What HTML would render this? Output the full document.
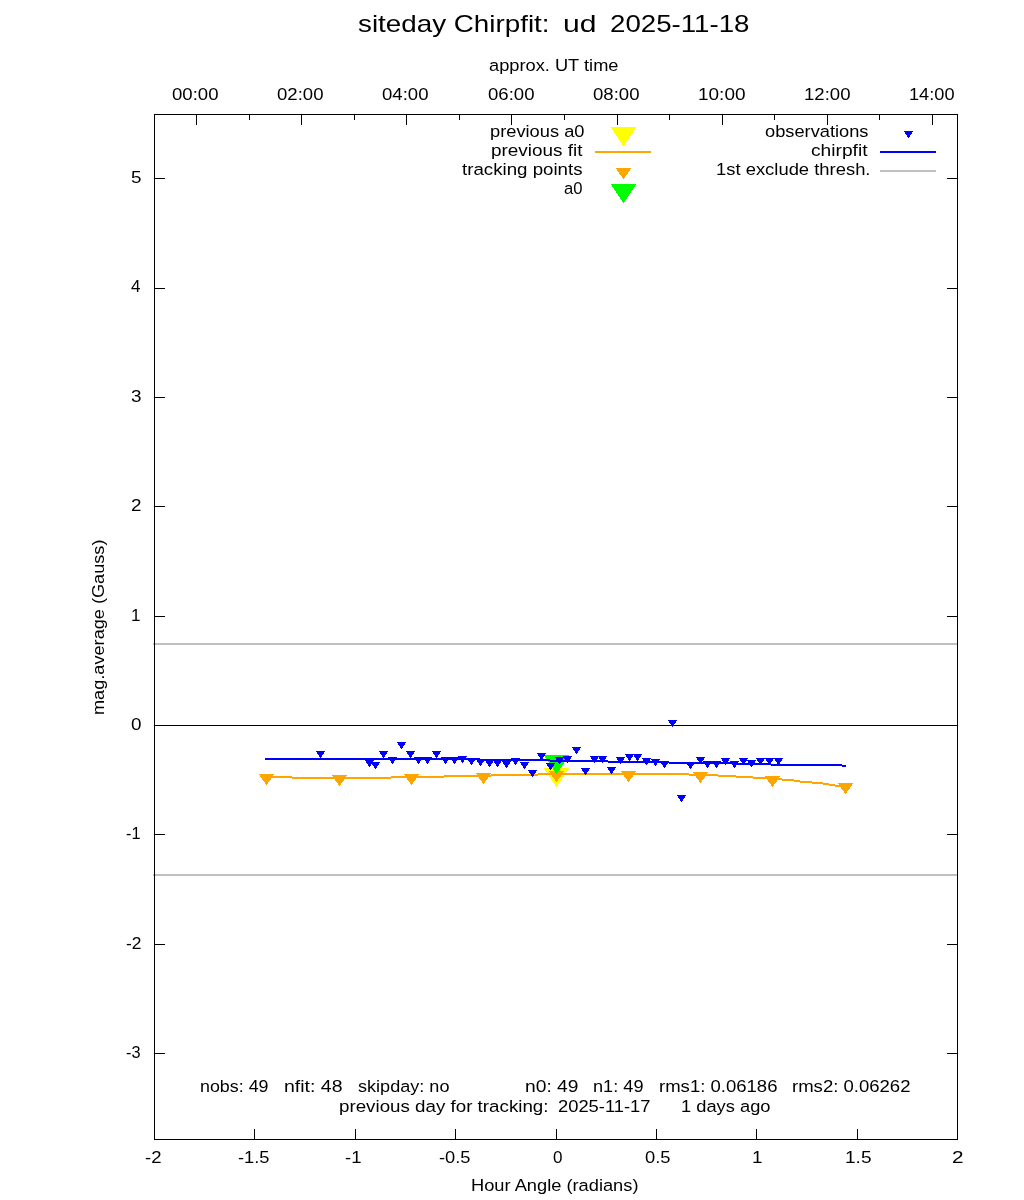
<!DOCTYPE html>
<html><head><meta charset="utf-8"><style>
html,body{margin:0;padding:0;background:#fff;width:1024px;height:1200px;overflow:hidden}
svg{display:block;will-change:transform}
</style></head><body>
<svg width="1024" height="1200" viewBox="0 0 1024 1200">
<rect x="0" y="0" width="1024" height="1200" fill="#ffffff"/><g shape-rendering="crispEdges"><rect x="153" y="643" width="804" height="2" fill="#c0c0c0"/><rect x="153" y="874" width="804" height="2" fill="#c0c0c0"/><rect x="154" y="725" width="804" height="1" fill="#000"/></g><g shape-rendering="crispEdges" fill="#000"><rect x="154" y="114" width="804" height="1"/><rect x="154" y="1139" width="804" height="1"/><rect x="154" y="114" width="1" height="1026"/><rect x="957" y="114" width="1" height="1026"/><rect x="155" y="1053" width="10" height="1"/><rect x="947" y="1053" width="10" height="1"/><rect x="155" y="944" width="10" height="1"/><rect x="947" y="944" width="10" height="1"/><rect x="155" y="834" width="10" height="1"/><rect x="947" y="834" width="10" height="1"/><rect x="155" y="725" width="10" height="1"/><rect x="947" y="725" width="10" height="1"/><rect x="155" y="616" width="10" height="1"/><rect x="947" y="616" width="10" height="1"/><rect x="155" y="506" width="10" height="1"/><rect x="947" y="506" width="10" height="1"/><rect x="155" y="397" width="10" height="1"/><rect x="947" y="397" width="10" height="1"/><rect x="155" y="288" width="10" height="1"/><rect x="947" y="288" width="10" height="1"/><rect x="155" y="178" width="10" height="1"/><rect x="947" y="178" width="10" height="1"/><rect x="154" y="1129" width="1" height="10"/><rect x="254" y="1129" width="1" height="10"/><rect x="355" y="1129" width="1" height="10"/><rect x="455" y="1129" width="1" height="10"/><rect x="556" y="1129" width="1" height="10"/><rect x="656" y="1129" width="1" height="10"/><rect x="756" y="1129" width="1" height="10"/><rect x="857" y="1129" width="1" height="10"/><rect x="957" y="1129" width="1" height="10"/><rect x="196" y="115" width="1" height="10"/><rect x="249" y="115" width="1" height="5"/><rect x="301" y="115" width="1" height="10"/><rect x="354" y="115" width="1" height="5"/><rect x="406" y="115" width="1" height="10"/><rect x="459" y="115" width="1" height="5"/><rect x="511" y="115" width="1" height="10"/><rect x="564" y="115" width="1" height="5"/><rect x="617" y="115" width="1" height="10"/><rect x="669" y="115" width="1" height="5"/><rect x="722" y="115" width="1" height="10"/><rect x="774" y="115" width="1" height="5"/><rect x="827" y="115" width="1" height="10"/><rect x="879" y="115" width="1" height="5"/><rect x="932" y="115" width="1" height="10"/></g><g shape-rendering="crispEdges"><path d="M543.50 768 L569.50 768 L556.50 787.20 Z" fill="#ffff00"/><rect x="265" y="776" width="27" height="2" fill="#ffa500"/><rect x="292" y="777" width="99" height="2" fill="#ffa500"/><rect x="391" y="776" width="53" height="2" fill="#ffa500"/><rect x="444" y="775" width="47" height="2" fill="#ffa500"/><rect x="491" y="774" width="47" height="2" fill="#ffa500"/><rect x="538" y="773" width="151" height="2" fill="#ffa500"/><rect x="689" y="774" width="29" height="2" fill="#ffa500"/><rect x="718" y="775" width="18" height="2" fill="#ffa500"/><rect x="736" y="776" width="17" height="2" fill="#ffa500"/><rect x="753" y="777" width="19" height="2" fill="#ffa500"/><rect x="772" y="778" width="10" height="2" fill="#ffa500"/><rect x="782" y="779" width="12" height="2" fill="#ffa500"/><rect x="794" y="780" width="6" height="2" fill="#ffa500"/><rect x="800" y="781" width="12" height="2" fill="#ffa500"/><rect x="812" y="782" width="11" height="2" fill="#ffa500"/><rect x="823" y="783" width="6" height="2" fill="#ffa500"/><rect x="829" y="784" width="6" height="2" fill="#ffa500"/><rect x="835" y="785" width="11" height="2" fill="#ffa500"/><path d="M258.50 774 L274.50 774 L266.50 785.20 Z" fill="#ffa500"/><path d="M331.50 775 L347.50 775 L339.50 786.20 Z" fill="#ffa500"/><path d="M403.50 774 L419.50 774 L411.50 785.20 Z" fill="#ffa500"/><path d="M475.50 773 L491.50 773 L483.50 784.20 Z" fill="#ffa500"/><path d="M548.50 771 L564.50 771 L556.50 782.20 Z" fill="#ffa500"/><path d="M620.50 771 L636.50 771 L628.50 782.20 Z" fill="#ffa500"/><path d="M692.50 772 L708.50 772 L700.50 783.20 Z" fill="#ffa500"/><path d="M764.50 776 L780.50 776 L772.50 787.20 Z" fill="#ffa500"/><path d="M837.50 783 L853.50 783 L845.50 794.20 Z" fill="#ffa500"/><path d="M543.50 755 L569.50 755 L556.50 774.20 Z" fill="#00ff00"/><path d="M315.50 751 L325.50 751 L320.50 758.20 Z" fill="#0000ff"/><path d="M364.50 760 L374.50 760 L369.50 767.20 Z" fill="#0000ff"/><path d="M370.50 762 L380.50 762 L375.50 769.20 Z" fill="#0000ff"/><path d="M378.50 751 L388.50 751 L383.50 758.20 Z" fill="#0000ff"/><path d="M396.50 742 L406.50 742 L401.50 749.20 Z" fill="#0000ff"/><path d="M387.50 757 L397.50 757 L392.50 764.20 Z" fill="#0000ff"/><path d="M405.50 751 L415.50 751 L410.50 758.20 Z" fill="#0000ff"/><path d="M413.50 757 L423.50 757 L418.50 764.20 Z" fill="#0000ff"/><path d="M422.50 757 L432.50 757 L427.50 764.20 Z" fill="#0000ff"/><path d="M431.50 751 L441.50 751 L436.50 758.20 Z" fill="#0000ff"/><path d="M440.50 757 L450.50 757 L445.50 764.20 Z" fill="#0000ff"/><path d="M449.50 757 L459.50 757 L454.50 764.20 Z" fill="#0000ff"/><path d="M457.50 756 L467.50 756 L462.50 763.20 Z" fill="#0000ff"/><path d="M466.50 758 L476.50 758 L471.50 765.20 Z" fill="#0000ff"/><path d="M475.50 759 L485.50 759 L480.50 766.20 Z" fill="#0000ff"/><path d="M484.50 760 L494.50 760 L489.50 767.20 Z" fill="#0000ff"/><path d="M492.50 760 L502.50 760 L497.50 767.20 Z" fill="#0000ff"/><path d="M501.50 761 L511.50 761 L506.50 768.20 Z" fill="#0000ff"/><path d="M510.50 758 L520.50 758 L515.50 765.20 Z" fill="#0000ff"/><path d="M519.50 762 L529.50 762 L524.50 769.20 Z" fill="#0000ff"/><path d="M527.50 770 L537.50 770 L532.50 777.20 Z" fill="#0000ff"/><path d="M536.50 753 L546.50 753 L541.50 760.20 Z" fill="#0000ff"/><path d="M545.50 763 L555.50 763 L550.50 770.20 Z" fill="#0000ff"/><path d="M554.50 757 L564.50 757 L559.50 764.20 Z" fill="#0000ff"/><path d="M562.50 756 L572.50 756 L567.50 763.20 Z" fill="#0000ff"/><path d="M571.50 747 L581.50 747 L576.50 754.20 Z" fill="#0000ff"/><path d="M580.50 768 L590.50 768 L585.50 775.20 Z" fill="#0000ff"/><path d="M589.50 756 L599.50 756 L594.50 763.20 Z" fill="#0000ff"/><path d="M597.50 756 L607.50 756 L602.50 763.20 Z" fill="#0000ff"/><path d="M606.50 767 L616.50 767 L611.50 774.20 Z" fill="#0000ff"/><path d="M615.50 757 L625.50 757 L620.50 764.20 Z" fill="#0000ff"/><path d="M624.50 754 L634.50 754 L629.50 761.20 Z" fill="#0000ff"/><path d="M632.50 754 L642.50 754 L637.50 761.20 Z" fill="#0000ff"/><path d="M641.50 758 L651.50 758 L646.50 765.20 Z" fill="#0000ff"/><path d="M650.50 759 L660.50 759 L655.50 766.20 Z" fill="#0000ff"/><path d="M659.50 761 L669.50 761 L664.50 768.20 Z" fill="#0000ff"/><path d="M667.50 720 L677.50 720 L672.50 727.20 Z" fill="#0000ff"/><path d="M676.50 795 L686.50 795 L681.50 802.20 Z" fill="#0000ff"/><path d="M685.50 762 L695.50 762 L690.50 769.20 Z" fill="#0000ff"/><path d="M695.50 757 L705.50 757 L700.50 764.20 Z" fill="#0000ff"/><path d="M702.50 761 L712.50 761 L707.50 768.20 Z" fill="#0000ff"/><path d="M711.50 761 L721.50 761 L716.50 768.20 Z" fill="#0000ff"/><path d="M720.50 758 L730.50 758 L725.50 765.20 Z" fill="#0000ff"/><path d="M729.50 761 L739.50 761 L734.50 768.20 Z" fill="#0000ff"/><path d="M738.50 758 L748.50 758 L743.50 765.20 Z" fill="#0000ff"/><path d="M746.50 760 L756.50 760 L751.50 767.20 Z" fill="#0000ff"/><path d="M755.50 758 L765.50 758 L760.50 765.20 Z" fill="#0000ff"/><path d="M764.50 758 L774.50 758 L769.50 765.20 Z" fill="#0000ff"/><path d="M773.50 758 L783.50 758 L778.50 765.20 Z" fill="#0000ff"/><rect x="265" y="758" width="215" height="2" fill="#0000ff"/><rect x="480" y="759" width="70" height="2" fill="#0000ff"/><rect x="550" y="760" width="58" height="2" fill="#0000ff"/><rect x="608" y="761" width="61" height="2" fill="#0000ff"/><rect x="669" y="762" width="66" height="2" fill="#0000ff"/><rect x="735" y="763" width="36" height="2" fill="#0000ff"/><rect x="771" y="764" width="71" height="2" fill="#0000ff"/><rect x="842" y="765" width="4" height="2" fill="#0000ff"/></g><g shape-rendering="crispEdges"><path d="M610.50 127 L636.50 127 L623.50 146.20 Z" fill="#ffff00"/><rect x="595" y="151" width="56" height="2" fill="#ffa500"/><path d="M615.50 168 L631.50 168 L623.50 179.20 Z" fill="#ffa500"/><path d="M610.50 184 L636.50 184 L623.50 203.20 Z" fill="#00ff00"/><path d="M903.50 131 L913.50 131 L908.50 138.20 Z" fill="#0000ff"/><rect x="880" y="151" width="56" height="2" fill="#0000ff"/><rect x="880" y="170" width="56" height="2" fill="#c0c0c0"/></g><g font-family='"Liberation Sans", sans-serif' fill="#000"><text x="358.00" y="31.50" font-size="23.8" textLength="191.50" lengthAdjust="spacingAndGlyphs">siteday Chirpfit:</text><text x="563.00" y="31.50" font-size="23.8" textLength="33.50" lengthAdjust="spacingAndGlyphs">ud</text><text x="610.00" y="31.50" font-size="23.8" textLength="139.50" lengthAdjust="spacingAndGlyphs">2025-11-18</text><text x="489.00" y="71.00" font-size="16.3" textLength="129.50" lengthAdjust="spacingAndGlyphs">approx. UT time</text><text x="172.00" y="100.00" font-size="16.3" textLength="46.50" lengthAdjust="spacingAndGlyphs">00:00</text><text x="277.00" y="100.00" font-size="16.3" textLength="46.50" lengthAdjust="spacingAndGlyphs">02:00</text><text x="382.00" y="100.00" font-size="16.3" textLength="46.50" lengthAdjust="spacingAndGlyphs">04:00</text><text x="488.00" y="100.00" font-size="16.3" textLength="46.50" lengthAdjust="spacingAndGlyphs">06:00</text><text x="593.00" y="100.00" font-size="16.3" textLength="46.50" lengthAdjust="spacingAndGlyphs">08:00</text><text x="698.00" y="100.00" font-size="16.3" textLength="47.50" lengthAdjust="spacingAndGlyphs">10:00</text><text x="804.00" y="100.00" font-size="16.3" textLength="46.50" lengthAdjust="spacingAndGlyphs">12:00</text><text x="909.00" y="100.00" font-size="16.3" textLength="45.50" lengthAdjust="spacingAndGlyphs">14:00</text><text x="131.00" y="183.00" font-size="16.3" textLength="10.50" lengthAdjust="spacingAndGlyphs">5</text><text x="131.00" y="292.00" font-size="16.3" textLength="9.50" lengthAdjust="spacingAndGlyphs">4</text><text x="131.00" y="402.00" font-size="16.3" textLength="10.50" lengthAdjust="spacingAndGlyphs">3</text><text x="131.00" y="511.00" font-size="16.3" textLength="10.50" lengthAdjust="spacingAndGlyphs">2</text><text x="131.00" y="621.00" font-size="16.3" textLength="9.50" lengthAdjust="spacingAndGlyphs">1</text><text x="131.00" y="730.00" font-size="16.3" textLength="10.50" lengthAdjust="spacingAndGlyphs">0</text><text x="126.00" y="839.00" font-size="16.3" textLength="14.50" lengthAdjust="spacingAndGlyphs">-1</text><text x="126.00" y="949.00" font-size="16.3" textLength="15.50" lengthAdjust="spacingAndGlyphs">-2</text><text x="126.00" y="1058.00" font-size="16.3" textLength="14.50" lengthAdjust="spacingAndGlyphs">-3</text><text x="145.00" y="1163.00" font-size="16.3" textLength="16.50" lengthAdjust="spacingAndGlyphs">-2</text><text x="238.00" y="1163.00" font-size="16.3" textLength="31.50" lengthAdjust="spacingAndGlyphs">-1.5</text><text x="345.00" y="1163.00" font-size="16.3" textLength="16.50" lengthAdjust="spacingAndGlyphs">-1</text><text x="439.00" y="1163.00" font-size="16.3" textLength="31.50" lengthAdjust="spacingAndGlyphs">-0.5</text><text x="553.00" y="1163.00" font-size="16.3" textLength="9.50" lengthAdjust="spacingAndGlyphs">0</text><text x="645.00" y="1163.00" font-size="16.3" textLength="25.50" lengthAdjust="spacingAndGlyphs">0.5</text><text x="752.00" y="1163.00" font-size="16.3" textLength="10.50" lengthAdjust="spacingAndGlyphs">1</text><text x="845.00" y="1163.00" font-size="16.3" textLength="26.50" lengthAdjust="spacingAndGlyphs">1.5</text><text x="952.00" y="1163.00" font-size="16.3" textLength="11.50" lengthAdjust="spacingAndGlyphs">2</text><text x="471.00" y="1191.00" font-size="16.3" textLength="167.50" lengthAdjust="spacingAndGlyphs">Hour Angle (radians)</text><text x="0" y="0" font-size="16.3" textLength="175.50" lengthAdjust="spacingAndGlyphs" transform="translate(104.00 715.00) rotate(-90)">mag.average (Gauss)</text><text x="490.00" y="136.70" font-size="16.3" textLength="94.50" lengthAdjust="spacingAndGlyphs">previous a0</text><text x="491.00" y="155.80" font-size="16.3" textLength="91.50" lengthAdjust="spacingAndGlyphs">previous fit</text><text x="462.00" y="174.70" font-size="16.3" textLength="120.50" lengthAdjust="spacingAndGlyphs">tracking points</text><text x="564.00" y="193.60" font-size="16.3" textLength="18.50" lengthAdjust="spacingAndGlyphs">a0</text><text x="765.00" y="136.70" font-size="16.3" textLength="103.50" lengthAdjust="spacingAndGlyphs">observations</text><text x="811.00" y="155.80" font-size="16.3" textLength="56.50" lengthAdjust="spacingAndGlyphs">chirpfit</text><text x="716.00" y="174.70" font-size="16.3" textLength="154.50" lengthAdjust="spacingAndGlyphs">1st exclude thresh.</text><text x="200.00" y="1091.50" font-size="16.3" textLength="68.50" lengthAdjust="spacingAndGlyphs">nobs: 49</text><text x="284.00" y="1091.50" font-size="16.3" textLength="58.50" lengthAdjust="spacingAndGlyphs">nfit: 48</text><text x="358.00" y="1091.50" font-size="16.3" textLength="91.50" lengthAdjust="spacingAndGlyphs">skipday: no</text><text x="525.00" y="1091.50" font-size="16.3" textLength="53.50" lengthAdjust="spacingAndGlyphs">n0: 49</text><text x="593.00" y="1091.50" font-size="16.3" textLength="50.50" lengthAdjust="spacingAndGlyphs">n1: 49</text><text x="659.00" y="1091.50" font-size="16.3" textLength="118.50" lengthAdjust="spacingAndGlyphs">rms1: 0.06186</text><text x="792.00" y="1091.50" font-size="16.3" textLength="118.50" lengthAdjust="spacingAndGlyphs">rms2: 0.06262</text><text x="339.00" y="1111.50" font-size="16.3" textLength="209.50" lengthAdjust="spacingAndGlyphs">previous day for tracking:</text><text x="558.00" y="1111.50" font-size="16.3" textLength="92.50" lengthAdjust="spacingAndGlyphs">2025-11-17</text><text x="681.00" y="1111.50" font-size="16.3" textLength="89.50" lengthAdjust="spacingAndGlyphs">1 days ago</text></g>
</svg>
</body></html>
